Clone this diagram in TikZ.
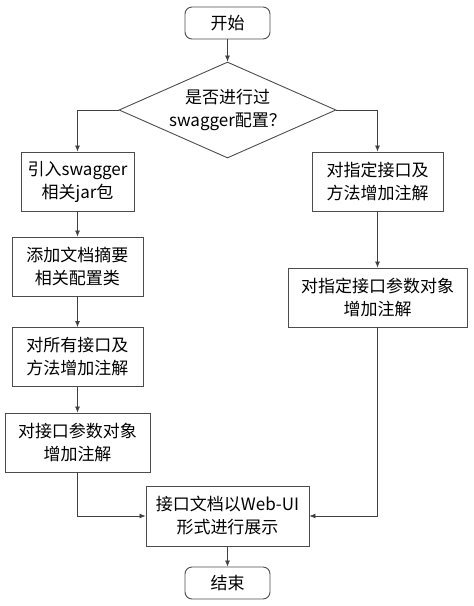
\documentclass[tikz,border=0pt]{standalone}
\usepackage{fontspec}
\setmainfont{Noto Sans CJK SC}
\usetikzlibrary{arrows.meta,shapes.geometric}

\begin{document}
\begin{tikzpicture}[
  x=1pt, y=-1pt,
  font=\fontsize{17}{23}\selectfont,
  >={Latex[length=6pt,width=5pt]},
  box/.style={
    draw=black!70, line width=0.9pt,
    rectangle, align=center, inner sep=0pt,
    minimum height=59pt
  },
  term/.style={box, rounded corners=7pt, minimum width=85pt, minimum height=32pt},
  dec/.style={
    draw=black!70, line width=0.9pt,
    diamond, aspect=2.26, inner sep=0pt, align=center,
    minimum width=217pt, minimum height=96pt
  },
  flow/.style={->, black!75, line width=0.7pt}
]
\useasboundingbox (0,0) rectangle (474,606);

% Start and question
\node[term] (start) at (227.5,23) {开始};
\node[dec] (ask) at (227.5,110) {是否进行过\\swagger配置？};

% Left column --- no configuration yet
\node[box, minimum width=113pt] (jar) at (77.5,181.5) {引入swagger\\相关jar包};
\node[box, minimum width=131pt] (conf) at (77.5,266.5) {添加文档摘要\\相关配置类};
\node[box, minimum width=131pt] (allapi) at (77.5,357) {对所有接口及\\方法增加注解};
\node[box, minimum width=145pt] (param) at (77.5,442.5) {对接口参数对象\\增加注解};

% Right column --- already configured
\node[box, minimum width=131pt] (someapi) at (377.5,181.5) {对指定接口及\\方法增加注解};
\node[box, minimum width=179pt] (someparam) at (377.5,297.5) {对指定接口参数对象\\增加注解};

% Result and end
\node[box, minimum width=163pt, minimum height=60pt] (show) at (227.5,516) {接口文档以Web-UI\\形式进行展示};
\node[term] (stop) at (227.5,583) {结束};

% Connectors
\draw[flow] (start) -- (ask);
\draw[flow] (ask.west) -| (jar.north);
\draw[flow] (ask.east) -| (someapi.north);
\draw[flow] (jar) -- (conf);
\draw[flow] (conf) -- (allapi);
\draw[flow] (allapi) -- (param);
\draw[flow] (someapi) -- (someparam);
\draw[flow] (param.south) |- (show.west);
\draw[flow] (someparam.south) |- (show.east);
\draw[flow] (show) -- (stop);
\end{tikzpicture}
\end{document}
